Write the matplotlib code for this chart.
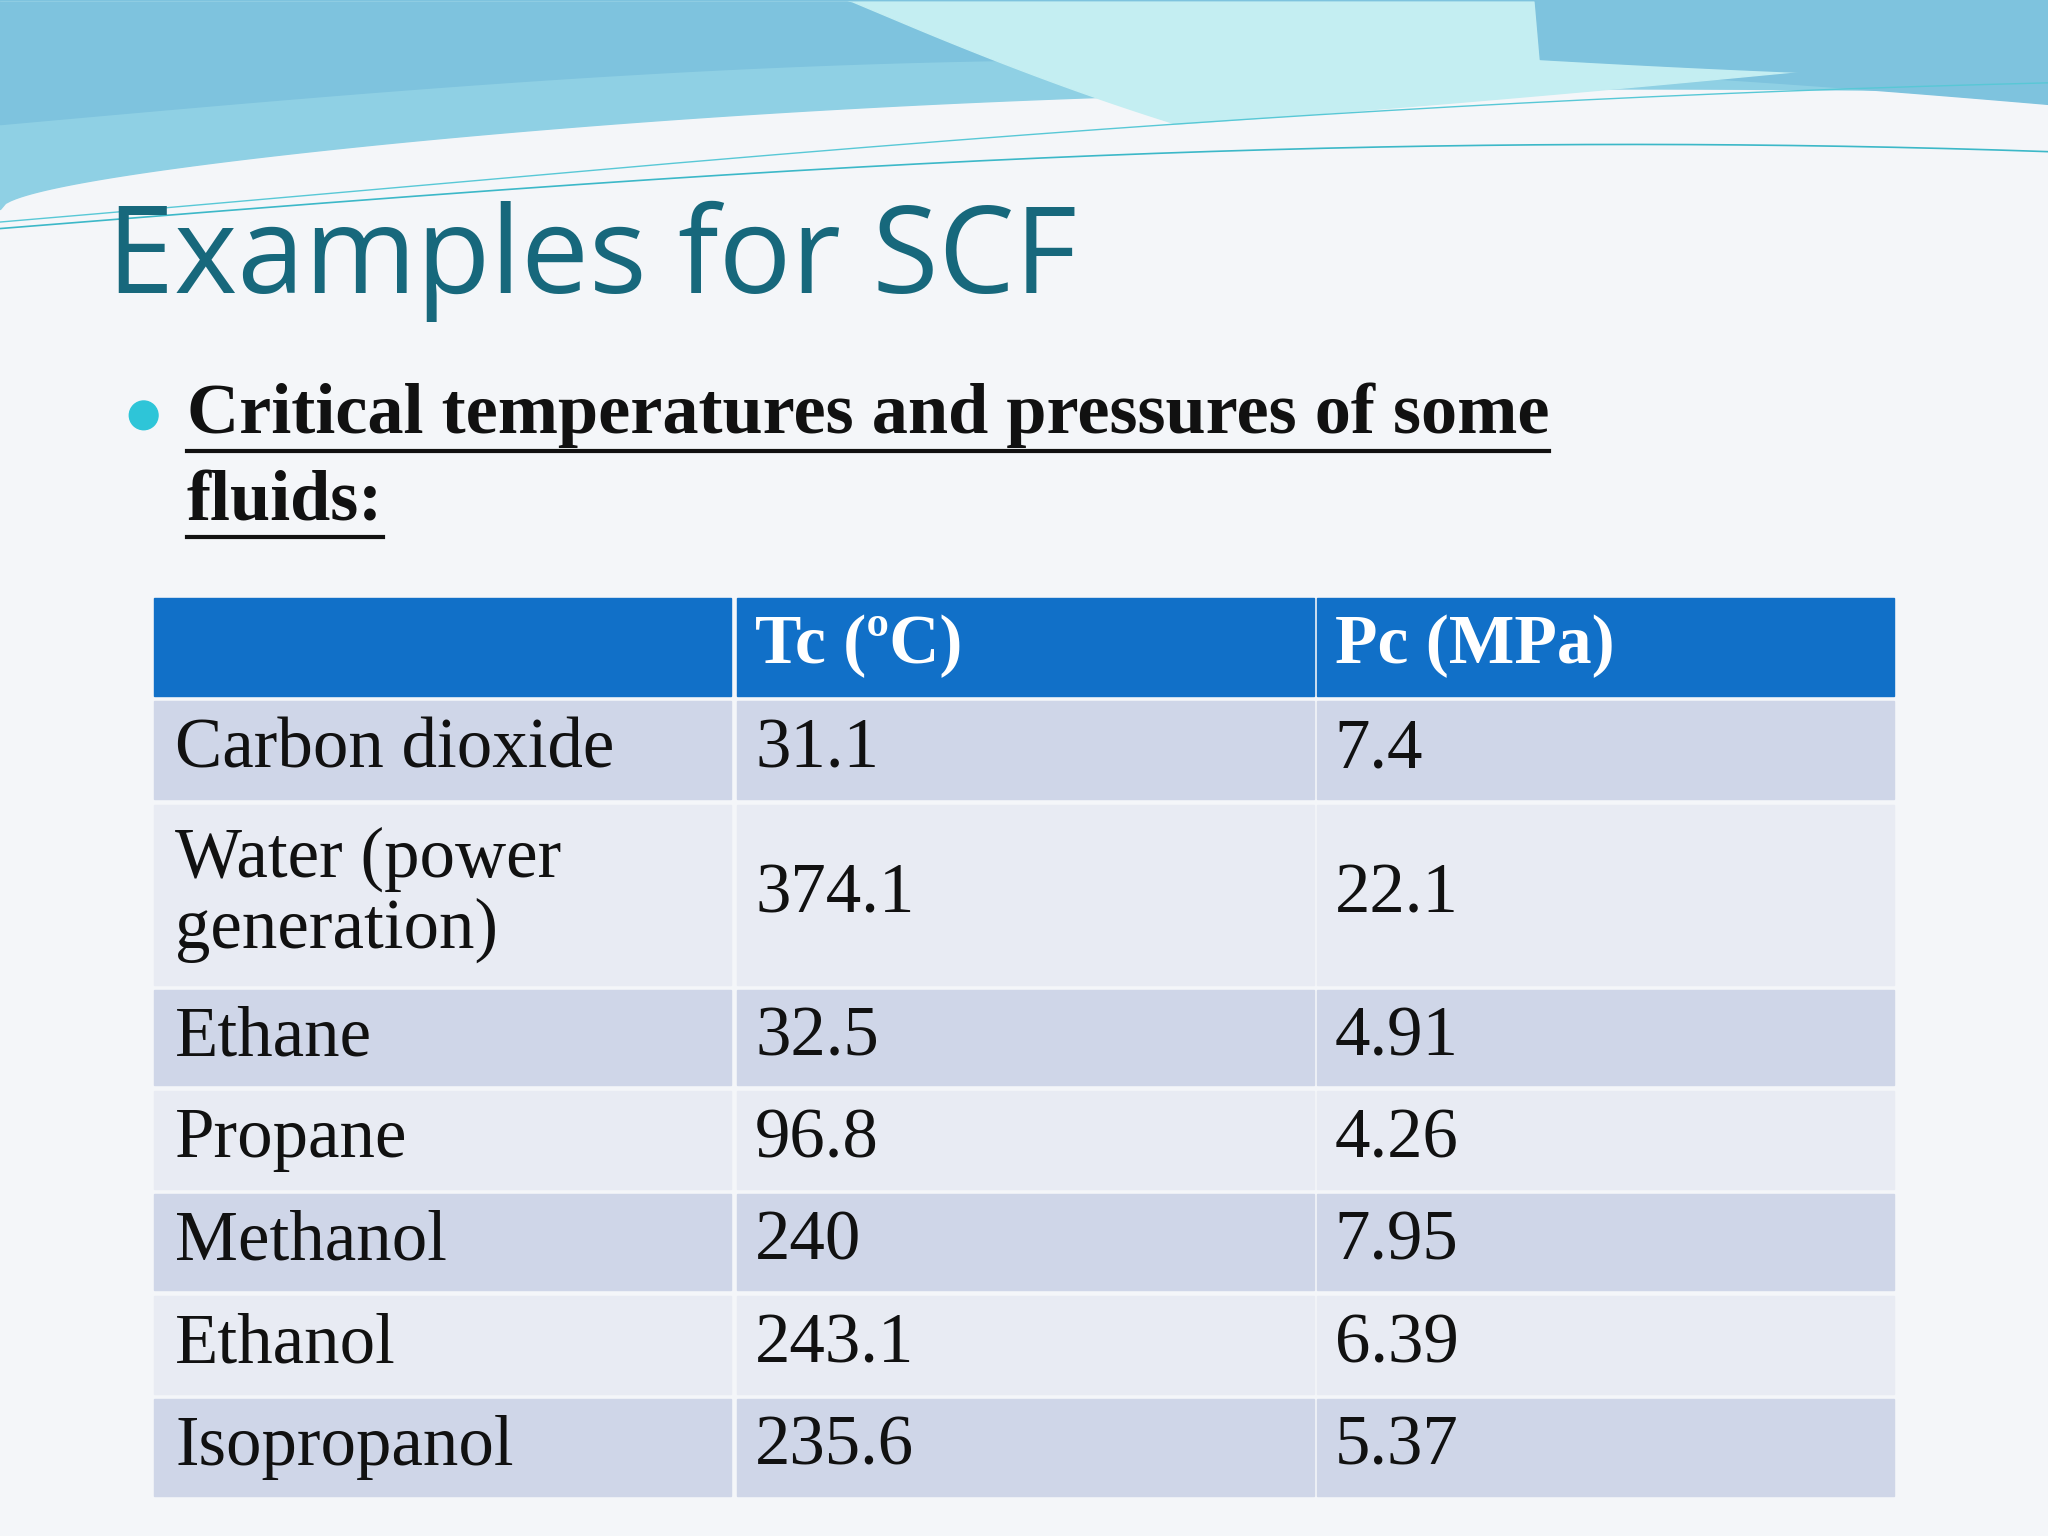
import numpy as np
import matplotlib.pyplot as plt
from matplotlib.patches import Rectangle, Circle

title = "Examples for SCF"
bullet_lines = ["Critical temperatures and pressures of some", "fluids:"]
col_headers = ["", "Tc (\u00baC)", "Pc (MPa)"]
fluids = ["Carbon dioxide", "Water (power\ngeneration)", "Ethane", "Propane",
          "Methanol", "Ethanol", "Isopropanol"]
tc = ["31.1", "374.1", "32.5", "96.8", "240", "243.1", "235.6"]
pc = ["7.4", "22.1", "4.91", "4.26", "7.95", "6.39", "5.37"]

W, H = 1568, 1176
fig = plt.figure(figsize=(20.48, 15.36), dpi=100)
ax = fig.add_axes([0, 0, 1, 1])
ax.set_xlim(0, W)
ax.set_ylim(H, 0)
ax.axis("off")
fig.patch.set_facecolor("#f4f6f9")

# top wave decoration
x = np.linspace(0, W, 400)
t = x / W
ax.fill_between(x, 0, 160 - 90 * t ** 0.5 - 20 * np.sin(np.pi * t), color="#8fd0e4")
ax.fill_between(x, 0, 95 - 50 * np.sin(np.pi * t * 0.9), color="#7ec3de")
s = np.clip((x - 650) / 250, 0, 1)
light = (1 - s) * 0 + s * (105 - 70 * np.clip((x - 700) / 868, 0, 1) ** 1.3)
ax.fill_between(x, 0, light, color="#c4eef2")
ax.fill_between(x, 0, np.clip(60 - 120 * (1 - t) ** 1.5, 0, None) * (t > 0.75), color="#7ec3de")
ax.plot(x, 175 - 90 * np.sin(np.pi * t * 0.55) + 30 * t, color="#3cb8c8", lw=1.2)
ax.plot(x, 170 - 70 * np.sin(np.pi * t * 0.6) - 40 * t ** 2, color="#58c8d6", lw=1)

ax.text(82, 200, title, fontsize=87, color="#17687c", family="Open Sans",
        va="center", ha="left")

ax.add_patch(Circle((110, 318), 11, color="#2ec5d8"))
ax.text(143, 318, bullet_lines[0], fontsize=52, weight="bold", family="Liberation Serif",
        va="center", ha="left", color="#111111")
ax.text(143, 385, bullet_lines[1], fontsize=52, weight="bold", family="Liberation Serif",
        va="center", ha="left", color="#111111")

# table
xs = [118, 562, 1006, 1450]
ys = [458, 535, 614, 756, 833, 912, 990, 1069, 1147]
gap = 2
for c in range(3):
    ax.add_patch(Rectangle((xs[c] + (gap if c else 0), ys[0]),
                           xs[c + 1] - xs[c] - gap, ys[1] - ys[0] - gap, color="#1170c8"))
    if col_headers[c]:
        ax.text(xs[c] + 16, (ys[0] + ys[1]) / 2 - 2, col_headers[c], fontsize=50,
                weight="bold", family="Liberation Serif", color="white", va="center")
for r in range(len(fluids)):
    fc = "#cfd6e8" if r % 2 == 0 else "#e8ebf3"
    y0, y1 = ys[r + 1] + gap, ys[r + 2] - gap
    for c in range(3):
        ax.add_patch(Rectangle((xs[c] + (gap if c else 0), y0),
                               xs[c + 1] - xs[c] - gap, y1 - y0, color=fc))
    yc = (y0 + y1) / 2
    for c, val in enumerate([fluids[r], tc[r], pc[r]]):
        ax.text(xs[c] + 16, yc, val, fontsize=51, family="Liberation Serif",
                color="#111111", va="center", linespacing=1.1)

fig.canvas.draw()
r = fig.canvas.get_renderer()
inv = ax.transData.inverted()
for txt_y in (343, 410):
    pass
for i, yy in enumerate((345, 411)):
    tt = ax.texts[1 + i]
    bb = tt.get_window_extent(r).transformed(inv)
    ax.plot([bb.x0, bb.x1], [yy, yy], color="#111111", lw=3)

fig.savefig("out.png", dpi=100, facecolor=fig.get_facecolor())
